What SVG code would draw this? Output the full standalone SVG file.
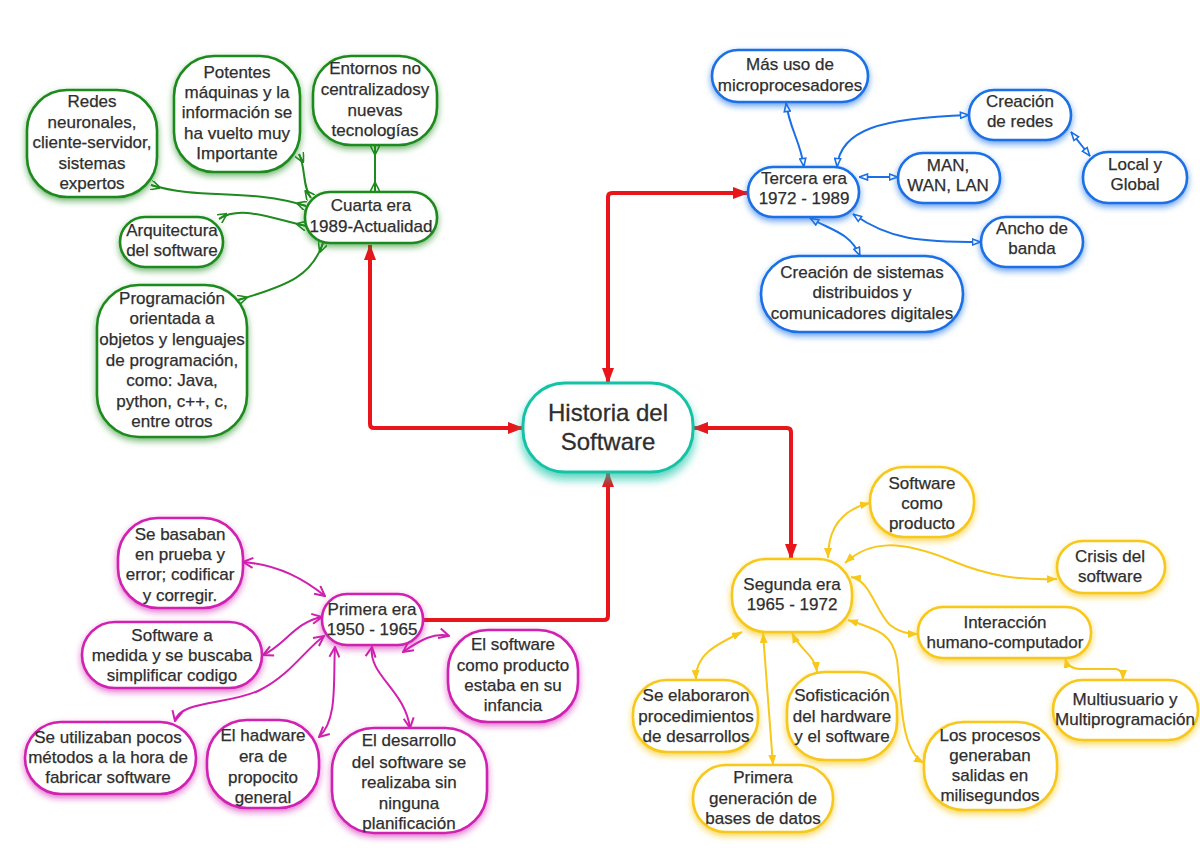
<svg xmlns="http://www.w3.org/2000/svg" width="1200" height="848" viewBox="0 0 1200 848">
<defs>
<style>
.t{font-family:"Liberation Sans",Arial,sans-serif;font-size:17px;fill:#2e2e2e;stroke:#2e2e2e;stroke-width:0.25;text-anchor:middle}
.tc{font-family:"Liberation Sans",Arial,sans-serif;font-size:24px;fill:#2e2e2e;stroke:#2e2e2e;stroke-width:0.3;text-anchor:middle}
.n{fill:#fff;stroke-width:2.6}
.g{stroke:#1f8a1f;filter:url(#fG)}
.b{stroke:#1a6fe6;filter:url(#fB)}
.m{stroke:#d020b0;filter:url(#fM)}
.y{stroke:#f7c71b;filter:url(#fY)}
.c{stroke:#19c2a6;stroke-width:3;filter:url(#fT)}
.cr{fill:none;stroke:#e8161b;stroke-width:4;marker-start:url(#aR);marker-end:url(#aR)}
.cg{fill:none;stroke:#1f8a1f;stroke-width:2;marker-start:url(#aG);marker-end:url(#aG)}
.cb{fill:none;stroke:#1a6fe6;stroke-width:2;marker-start:url(#aB);marker-end:url(#aB)}
.cm{fill:none;stroke:#d020b0;stroke-width:2;marker-start:url(#aM);marker-end:url(#aM)}
.cy{fill:none;stroke:#f7c71b;stroke-width:2;marker-start:url(#aY);marker-end:url(#aY)}
</style>
<filter id="fG" x="-20%" y="-20%" width="140%" height="150%"><feDropShadow dx="0" dy="3" stdDeviation="3" flood-color="#1f8a1f" flood-opacity="0.6"/></filter>
<filter id="fB" x="-20%" y="-20%" width="140%" height="150%"><feDropShadow dx="0" dy="3" stdDeviation="3" flood-color="#1a6fe6" flood-opacity="0.65"/></filter>
<filter id="fM" x="-20%" y="-20%" width="140%" height="150%"><feDropShadow dx="0" dy="3" stdDeviation="3" flood-color="#d020b0" flood-opacity="0.6"/></filter>
<filter id="fY" x="-20%" y="-20%" width="140%" height="150%"><feDropShadow dx="0" dy="3" stdDeviation="3" flood-color="#f7c71b" flood-opacity="0.7"/></filter>
<filter id="fT" x="-20%" y="-20%" width="140%" height="150%"><feDropShadow dx="0" dy="6" stdDeviation="5" flood-color="#19c2a6" flood-opacity="0.7"/></filter>
<marker id="aR" viewBox="0 0 16 12" refX="15" refY="6" markerWidth="16" markerHeight="12" markerUnits="userSpaceOnUse" orient="auto-start-reverse"><path d="M0,0 L16,6 L0,12 z" fill="#e8161b"/></marker>
<marker id="aG" viewBox="0 0 10 10" refX="10" refY="5" markerWidth="10" markerHeight="10" markerUnits="userSpaceOnUse" orient="auto-start-reverse"><path d="M0,5 L10,0 M0,5 L10,5 M0,5 L10,10" fill="none" stroke="#1f8a1f" stroke-width="1.6"/></marker>
<marker id="aB" viewBox="0 0 10 8" refX="9.5" refY="4" markerWidth="10" markerHeight="8" markerUnits="userSpaceOnUse" orient="auto-start-reverse"><path d="M1,1 L9,4 L1,7 z" fill="#fff" stroke="#1a6fe6" stroke-width="1.6"/></marker>
<marker id="aM" viewBox="0 0 12 12" refX="11" refY="6" markerWidth="12" markerHeight="12" markerUnits="userSpaceOnUse" orient="auto-start-reverse"><path d="M1,1 L11,6 L1,11" fill="none" stroke="#d020b0" stroke-width="2"/></marker>
<marker id="aY" viewBox="0 0 10 8" refX="10" refY="4" markerWidth="10" markerHeight="8" markerUnits="userSpaceOnUse" orient="auto-start-reverse"><path d="M0,0 L10,4 L0,8 z" fill="#f7c71b"/></marker>
</defs>
<rect width="1200" height="848" fill="#fff"/>

<g id="connectors">
<path class="cr" d="M523,428 H374 Q370,428 370,424 V245"/>
<path class="cr" d="M608,383 V197 Q608,193 612,193 H748"/>
<path class="cr" d="M693,428 H787 Q791,428 791,432 V559"/>
<path class="cr" style="marker-start:none" d="M423,620 H604 Q608,620 608,616 V472"/>

<path class="cg" d="M375,145 V192"/>
<path class="cg" d="M299,154 C306,168 302,186 311,198"/>
<path class="cg" d="M151,185 C200,200 250,188 306,206"/>
<path class="cg" d="M219,219 C240,205 270,218 306,226"/>
<path class="cg" d="M238,300 C290,285 312,275 323,243"/>

<path class="cb" d="M786,103 C790,130 800,140 804,167"/>
<path class="cb" d="M837,167 C840,130 880,118 969,115"/>
<path class="cb" d="M859,177 L898,177"/>
<path class="cb" d="M1071,132 L1090,156"/>
<path class="cb" d="M853,214 C890,240 920,242 981,242"/>
<path class="cb" d="M810,218 C830,230 850,232 860,256"/>

<path class="cm" d="M243,562 C280,565 305,580 325,596"/>
<path class="cm" d="M263,655 C285,645 295,622 322,617"/>
<path class="cm" d="M175,721 C180,700 230,705 260,690 C290,675 305,650 324,636"/>
<path class="cm" d="M335,647 C333,680 338,720 319,737"/>
<path class="cm" d="M372,647 C368,675 405,690 410,728"/>
<path class="cm" d="M403,652 C420,640 435,632 449,636"/>

<path class="cy" d="M828,558 C828,530 840,510 870,503"/>
<path class="cy" d="M845,563 C870,540 900,540 950,560 C990,577 1020,580 1057,579"/>
<path class="cy" d="M851,577 C870,580 875,610 890,625 C900,633 910,634 918,634"/>
<path class="cy" d="M848,620 C880,630 893,635 897,660 C902,700 900,750 924,763"/>
<path class="cy" d="M763,633 L773,765"/>
<path class="cy" d="M742,632 C715,645 695,655 696,680"/>
<path class="cy" d="M792,633 C800,650 815,655 817,672"/>
<path class="cy" d="M1065,658 Q1068,669 1080,669 L1116,669 Q1123,670 1123,680"/>
</g>

<g id="historia"><rect class="n c" x="523" y="383" width="170" height="89" rx="42"/><text class="tc"><tspan x="608" y="421">Historia del</tspan><tspan x="608" y="450">Software</tspan></text></g>

<g id="cuarta"><rect class="n g" x="305" y="192" width="132" height="51" rx="25"/><text class="t"><tspan x="371" y="211">Cuarta era</tspan><tspan x="371" y="232">1989-Actualidad</tspan></text></g>
<g id="redes-neuronales"><rect class="n g" x="27" y="90" width="130" height="107" rx="40"/><text class="t"><tspan x="92" y="107">Redes</tspan><tspan x="92" y="128">neuronales,</tspan><tspan x="92" y="148">cliente-servidor,</tspan><tspan x="92" y="169">sistemas</tspan><tspan x="92" y="189">expertos</tspan></text></g>
<g id="potentes"><rect class="n g" x="174" y="56" width="126" height="116" rx="40"/><text class="t"><tspan x="237" y="78">Potentes</tspan><tspan x="237" y="98">máquinas y la</tspan><tspan x="237" y="118">información se</tspan><tspan x="237" y="139">ha vuelto muy</tspan><tspan x="237" y="159">Importante</tspan></text></g>
<g id="entornos"><rect class="n g" x="313" y="56" width="124" height="89" rx="38"/><text class="t"><tspan x="375" y="74">Entornos no</tspan><tspan x="375" y="95">centralizadosy</tspan><tspan x="375" y="116">nuevas</tspan><tspan x="375" y="136">tecnologías</tspan></text></g>
<g id="arquitectura"><rect class="n g" x="120" y="217" width="103" height="50" rx="25"/><text class="t"><tspan x="172" y="236">Arquitectura</tspan><tspan x="172" y="256">del software</tspan></text></g>
<g id="programacion"><rect class="n g" x="97" y="285" width="150" height="152" rx="42"/><text class="t"><tspan x="172" y="304">Programación</tspan><tspan x="172" y="324">orientada a</tspan><tspan x="172" y="345">objetos y lenguajes</tspan><tspan x="172" y="366">de programación,</tspan><tspan x="172" y="386">como: Java,</tspan><tspan x="172" y="407">python, c++, c,</tspan><tspan x="172" y="427">entre otros</tspan></text></g>

<g id="tercera"><rect class="n b" x="748" y="167" width="111" height="50" rx="25"/><text class="t"><tspan x="804" y="184">Tercera era</tspan><tspan x="804" y="204">1972 - 1989</tspan></text></g>
<g id="microprocesadores"><rect class="n b" x="712" y="50" width="156" height="52" rx="26"/><text class="t"><tspan x="790" y="70">Más uso de</tspan><tspan x="790" y="91">microprocesadores</tspan></text></g>
<g id="creacion-redes"><rect class="n b" x="969" y="90" width="102" height="50" rx="25"/><text class="t"><tspan x="1020" y="107">Creación</tspan><tspan x="1020" y="127">de redes</tspan></text></g>
<g id="man-wan-lan"><rect class="n b" x="898" y="153" width="102" height="50" rx="25"/><text class="t"><tspan x="948" y="171">MAN,</tspan><tspan x="948" y="191">WAN, LAN</tspan></text></g>
<g id="local-global"><rect class="n b" x="1083" y="152" width="104" height="51" rx="25"/><text class="t"><tspan x="1135" y="170">Local y</tspan><tspan x="1135" y="190">Global</tspan></text></g>
<g id="ancho-banda"><rect class="n b" x="981" y="217" width="102" height="50" rx="25"/><text class="t"><tspan x="1032" y="234">Ancho de</tspan><tspan x="1032" y="254">banda</tspan></text></g>
<g id="sistemas-distribuidos"><rect class="n b" x="761" y="256" width="202" height="76" rx="38"/><text class="t"><tspan x="862" y="278">Creación de sistemas</tspan><tspan x="862" y="298">distribuidos y</tspan><tspan x="862" y="319">comunicadores digitales</tspan></text></g>

<g id="primera"><rect class="n m" x="322" y="594" width="101" height="51" rx="25"/><text class="t"><tspan x="372" y="615">Primera era</tspan><tspan x="372" y="635">1950 - 1965</tspan></text></g>
<g id="basaban"><rect class="n m" x="118" y="518" width="125" height="90" rx="40"/><text class="t"><tspan x="180" y="540">Se basaban</tspan><tspan x="180" y="560">en prueba y</tspan><tspan x="180" y="580">error; codificar</tspan><tspan x="180" y="601">y corregir.</tspan></text></g>
<g id="medida"><rect class="n m" x="82" y="622" width="180" height="66" rx="33"/><text class="t"><tspan x="172" y="641">Software a</tspan><tspan x="172" y="661">medida y se buscaba</tspan><tspan x="172" y="681">simplificar codigo</tspan></text></g>
<g id="utilizaban"><rect class="n m" x="25" y="722" width="171" height="72" rx="36"/><text class="t"><tspan x="108" y="743">Se utilizaban pocos</tspan><tspan x="108" y="763">métodos a la hora de</tspan><tspan x="108" y="783">fabricar software</tspan></text></g>
<g id="hadware"><rect class="n m" x="207" y="720" width="112" height="88" rx="40"/><text class="t"><tspan x="263" y="741">El hadware</tspan><tspan x="263" y="762">era de</tspan><tspan x="263" y="783">propocito</tspan><tspan x="263" y="803">general</tspan></text></g>
<g id="desarrollo"><rect class="n m" x="332" y="728" width="155" height="105" rx="42"/><text class="t"><tspan x="409" y="746">El desarrollo</tspan><tspan x="409" y="768">del software se</tspan><tspan x="409" y="788">realizaba sin</tspan><tspan x="409" y="809">ninguna</tspan><tspan x="409" y="829">planificación</tspan></text></g>
<g id="infancia"><rect class="n m" x="448" y="630" width="130" height="92" rx="40"/><text class="t"><tspan x="513" y="650">El software</tspan><tspan x="513" y="671">como producto</tspan><tspan x="513" y="691">estaba en su</tspan><tspan x="513" y="711">infancia</tspan></text></g>

<g id="segunda"><rect class="n y" x="732" y="559" width="120" height="73" rx="34"/><text class="t"><tspan x="792" y="590">Segunda era</tspan><tspan x="792" y="610">1965 - 1972</tspan></text></g>
<g id="sw-producto"><rect class="n y" x="870" y="467" width="104" height="70" rx="34"/><text class="t"><tspan x="922" y="489">Software</tspan><tspan x="922" y="509">como</tspan><tspan x="922" y="529">producto</tspan></text></g>
<g id="crisis"><rect class="n y" x="1057" y="541" width="108" height="52" rx="26"/><text class="t"><tspan x="1110" y="562">Crisis del</tspan><tspan x="1110" y="582">software</tspan></text></g>
<g id="interaccion"><rect class="n y" x="918" y="607" width="173" height="51" rx="25"/><text class="t"><tspan x="1005" y="628">Interacción</tspan><tspan x="1005" y="648">humano-computador</tspan></text></g>
<g id="multiusuario"><rect class="n y" x="1053" y="680" width="145" height="60" rx="30"/><text class="t"><tspan x="1125" y="705">Multiusuario y</tspan><tspan x="1125" y="725">Multiprogramación</tspan></text></g>
<g id="elaboraron"><rect class="n y" x="633" y="680" width="125" height="72" rx="34"/><text class="t"><tspan x="696" y="701">Se elaboraron</tspan><tspan x="696" y="722">procedimientos</tspan><tspan x="696" y="742">de desarrollos</tspan></text></g>
<g id="sofisticacion"><rect class="n y" x="787" y="672" width="110" height="88" rx="38"/><text class="t"><tspan x="842" y="701">Sofisticación</tspan><tspan x="842" y="722">del hardware</tspan><tspan x="842" y="742">y el software</tspan></text></g>
<g id="bases-datos"><rect class="n y" x="693" y="765" width="140" height="67" rx="33"/><text class="t"><tspan x="763" y="783">Primera</tspan><tspan x="763" y="804">generación de</tspan><tspan x="763" y="824">bases de datos</tspan></text></g>
<g id="procesos"><rect class="n y" x="924" y="722" width="133" height="88" rx="40"/><text class="t"><tspan x="990" y="741">Los procesos</tspan><tspan x="990" y="761">generaban</tspan><tspan x="990" y="781">salidas en</tspan><tspan x="990" y="801">milisegundos</tspan></text></g>
</svg>
